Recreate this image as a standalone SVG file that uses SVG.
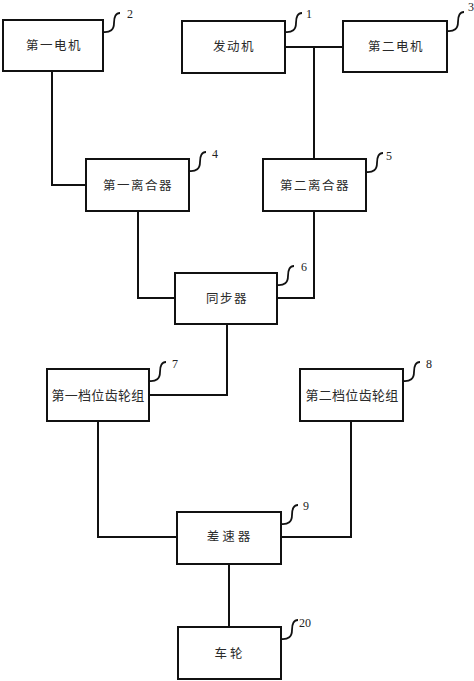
<svg xmlns="http://www.w3.org/2000/svg" width="474" height="681" viewBox="0 0 474 681">
<defs>
<style>
.box{fill:#fff;stroke:#111;stroke-width:2}
.ln{fill:none;stroke:#111;stroke-width:2}
.sq{fill:none;stroke:#111;stroke-width:1.8}
.t{font-family:"Noto Sans CJK SC","Noto Sans",sans-serif;font-size:12.5px;fill:#2a2a2a;text-anchor:middle;letter-spacing:1.5px}
.n{font-family:"Liberation Serif",serif;font-size:12px;fill:#222}
</style>
<path id="sq" class="sq" d="M0,0 Q11,1 11,-9 Q11,-19 17,-19"/>
</defs>
<rect width="474" height="681" fill="#fff"/>
<g id="connectors">
<path class="ln" d="M52,71 V185 H86"/>
<path class="ln" d="M285,47 H343 M314,47 V159"/>
<path class="ln" d="M138,211 V298 H175"/>
<path class="ln" d="M314,211 V298 H277"/>
<path class="ln" d="M227,324 V395 H149"/>
<path class="ln" d="M98,421 V537 H177"/>
<path class="ln" d="M351,421 V537 H281"/>
<path class="ln" d="M229,564 V627"/>
</g>
<g id="n2"><rect class="box" x="3" y="20" width="100" height="51"/><text class="t" x="54" y="50">第一电机</text><use href="#sq" x="103" y="32"/><text class="n" x="127" y="18">2</text></g>
<g id="n1"><rect class="box" x="182" y="21" width="103" height="52"/><text class="t" x="234" y="51">发动机</text><use href="#sq" x="285" y="32"/><text class="n" x="306" y="18">1</text></g>
<g id="n3"><rect class="box" x="343" y="21" width="104" height="51"/><text class="t" x="396" y="51">第二电机</text><use href="#sq" x="447" y="31"/><text class="n" x="468" y="11">3</text></g>
<g id="n4"><rect class="box" x="86" y="159" width="103" height="52"/><text class="t" x="138" y="190">第一离合器</text><use href="#sq" x="189" y="171"/><text class="n" x="212" y="158">4</text></g>
<g id="n5"><rect class="box" x="263" y="159" width="103" height="52"/><text class="t" x="315" y="190">第二离合器</text><use href="#sq" x="366" y="172"/><text class="n" x="386" y="160">5</text></g>
<g id="n6"><rect class="box" x="175" y="273" width="102" height="51"/><text class="t" x="227" y="303">同步器</text><use href="#sq" x="277" y="285"/><text class="n" x="301" y="271">6</text></g>
<g id="n7"><rect class="box" x="47" y="369" width="102" height="52"/><text class="t" x="98" y="400" style="letter-spacing:0.3px;font-size:13px">第一档位齿轮组</text><use href="#sq" x="149" y="381"/><text class="n" x="172" y="368">7</text></g>
<g id="n8"><rect class="box" x="300" y="369" width="103" height="52"/><text class="t" x="352" y="400" style="letter-spacing:0.3px;font-size:13px">第二档位齿轮组</text><use href="#sq" x="403" y="381"/><text class="n" x="426" y="368">8</text></g>
<g id="n9"><rect class="box" x="177" y="512" width="104" height="52"/><text class="t" x="230" y="541" style="letter-spacing:3px">差速器</text><use href="#sq" x="281" y="524"/><text class="n" x="303" y="510">9</text></g>
<g id="n20"><rect class="box" x="178" y="627" width="103" height="52"/><text class="t" x="230" y="658" style="letter-spacing:3px">车轮</text><use href="#sq" x="281" y="639"/><text class="n" x="299" y="627">20</text></g>
</svg>
